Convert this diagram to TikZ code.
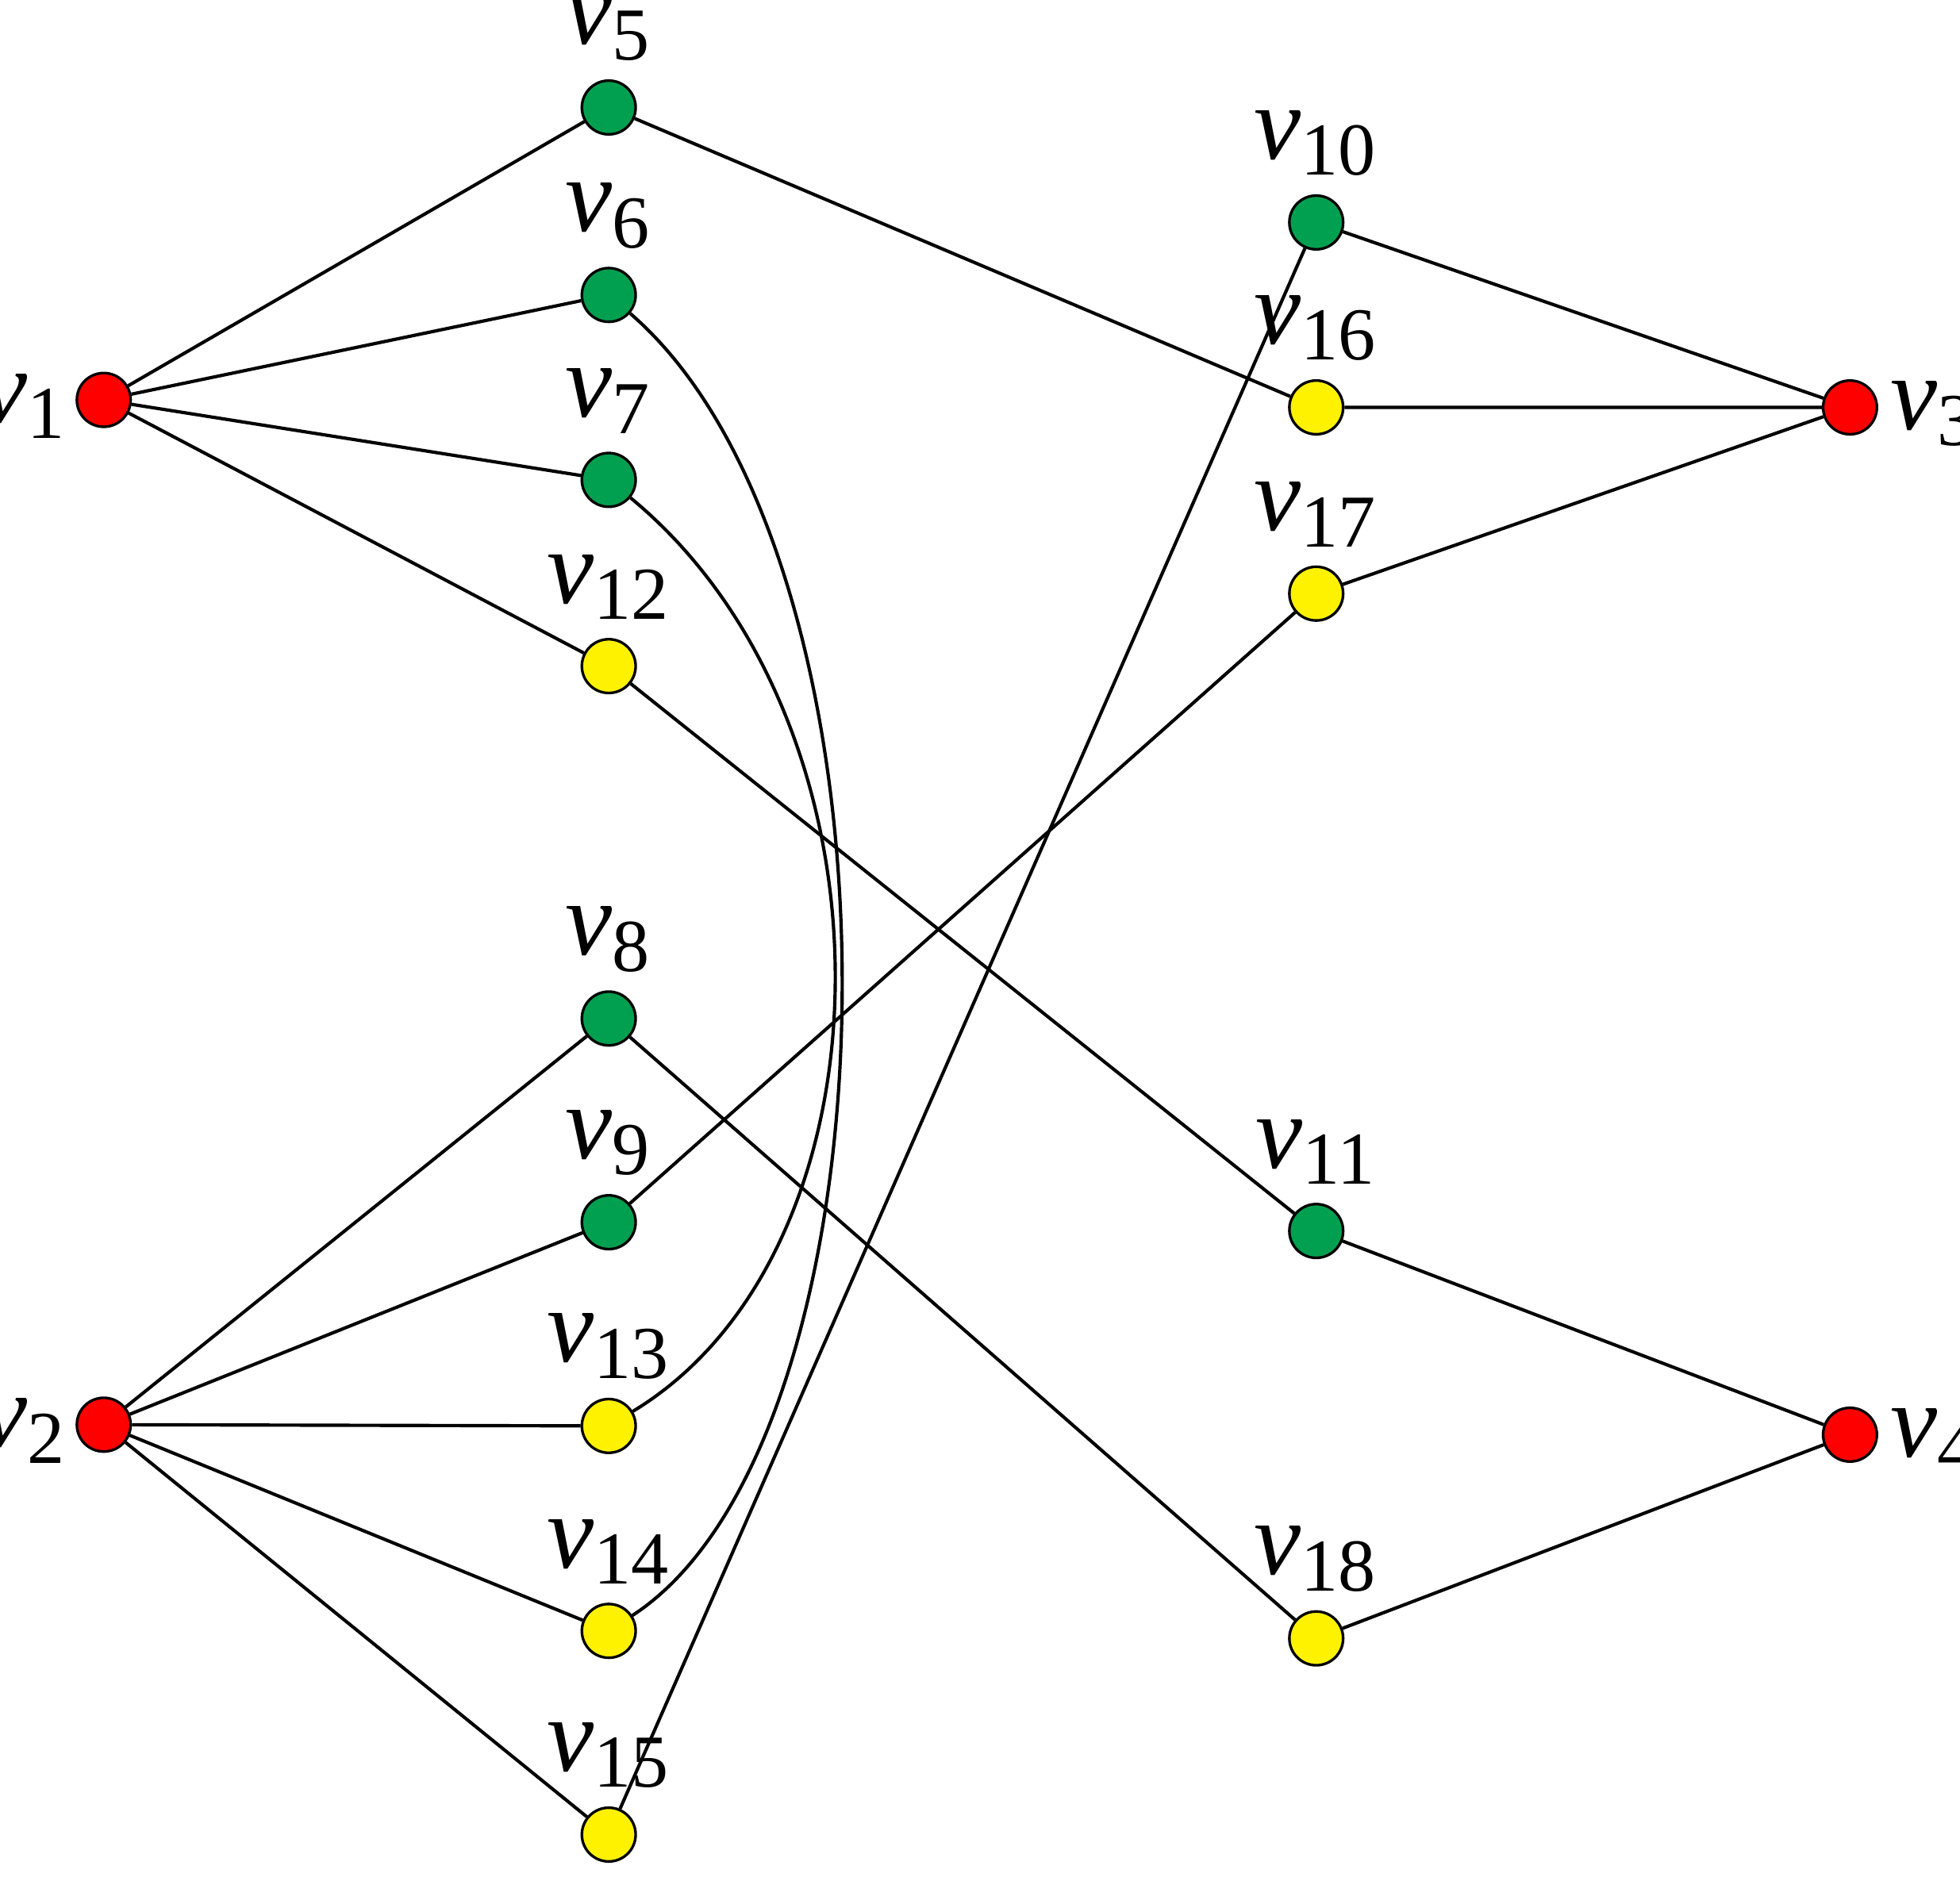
\documentclass[tikz,border=0pt]{standalone}
\usepackage{fontspec}
\setmainfont{Liberation Serif}
\usetikzlibrary{positioning}
\newcommand{\vl}[1]{\textit{v}\textsubscript{\fontsize{17}{19}\selectfont #1}}
\begin{document}
\begin{tikzpicture}[x=0.01cm,y=-0.01cm,
  vtx/.style={circle,draw=black,line width=0.6pt,minimum size=0.43cm,inner sep=0pt},
  gr/.style={vtx,fill={rgb,255:red,0;green,160;blue,80}},
  ye/.style={vtx,fill=yellow},
  rd/.style={vtx,fill=red},
  lab/.style={font=\fontsize{24}{26}\selectfont,inner sep=1pt},
  edge/.style={line width=0.75pt,black}]
\useasboundingbox (0,0) rectangle (1568,1505);
\node[rd] (v1) at (83,320) {};
\node[rd] (v2) at (83,1140) {};
\node[rd] (v3) at (1480,326) {};
\node[rd] (v4) at (1480,1148) {};
\node[gr] (v5) at (487,86) {};
\node[gr] (v6) at (487,236) {};
\node[gr] (v7) at (487,384) {};
\node[ye] (v12) at (487,533) {};
\node[gr] (v8) at (487,815) {};
\node[gr] (v9) at (487,978) {};
\node[ye] (v13) at (487,1141) {};
\node[ye] (v14) at (487,1305) {};
\node[ye] (v15) at (487,1468) {};
\node[gr] (v10) at (1053,178) {};
\node[ye] (v16) at (1053,326) {};
\node[ye] (v17) at (1053,475) {};
\node[gr] (v11) at (1053,985) {};
\node[ye] (v18) at (1053,1311) {};
\node[lab,anchor=east] (l1) at (58,325) {\vl{1}};
\node[lab,anchor=east] (l2) at (58,1145) {\vl{2}};
\node[lab,anchor=west] (l3) at (1508,331) {\vl{3}};
\node[lab,anchor=west] (l4) at (1508,1153) {\vl{4}};
\foreach \n in {5,6,7,12,8,9,13,14,15,10,16,17,11,18}
  \node[lab,above=3pt of v\n] (l\n) {\vl{\n}};
\draw[edge] (v1)--(v5) (v1)--(v6) (v1)--(v7) (v1)--(v12);
\draw[edge] (v5)--(v16) (v10)--(v3) (v16)--(v3) (v17)--(v3);
\draw[edge] (v12)--(v11) (v8)--(v2) (v8)--(v18) (v9)--(v2) (v9)--(v17);
\draw[edge] (v2)--(v13) (v2)--(v14) (v2)--(v15) (v15)--(v10);
\draw[edge] (v11)--(v4) (v18)--(v4);
\draw[edge] (v6) .. controls (735,450) and (725,1150) .. (v14);
\draw[edge] (v7) .. controls (725,580) and (720,1000) .. (v13);
\end{tikzpicture}
\end{document}
